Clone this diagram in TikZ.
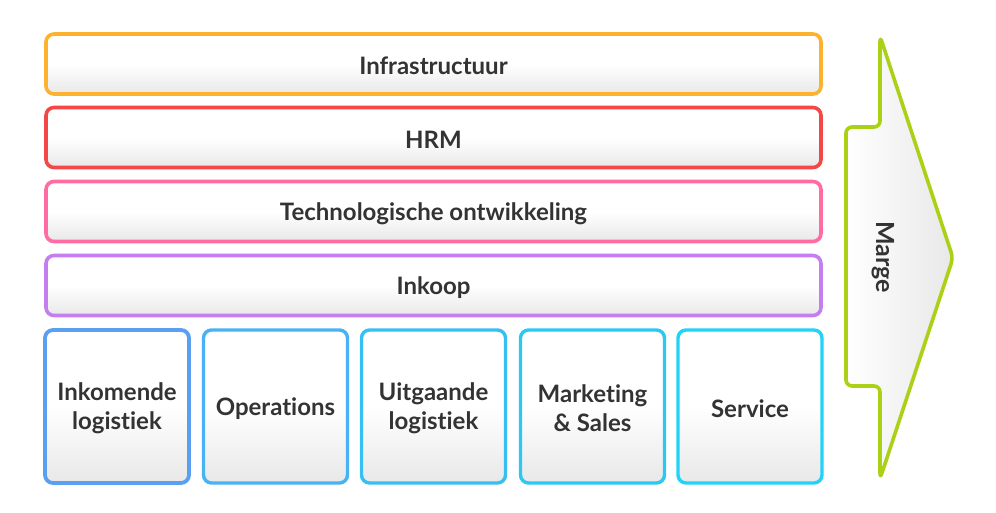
\documentclass[tikz,border=0pt]{standalone}
\usepackage{fontspec}
\setmainfont{Lato}[Ligatures={NoCommon,NoContextual}]
\definecolor{txt}{HTML}{333333}
\definecolor{cInfra}{HTML}{FDB22F}
\definecolor{cHrm}{HTML}{F44848}
\definecolor{cTech}{HTML}{FF6BA2}
\definecolor{cInk}{HTML}{C47EF0}
\definecolor{cB1}{HTML}{5BA0F0}
\definecolor{cB2}{HTML}{48B2F2}
\definecolor{cB3}{HTML}{38BFF2}
\definecolor{cB4}{HTML}{2CC8F4}
\definecolor{cB5}{HTML}{22D2F7}
\definecolor{cArrow}{HTML}{ABD116}
\definecolor{shadegray}{HTML}{E8E8E8}
\begin{document}
\begin{tikzpicture}[x=1pt,y=-1pt,
  lbl/.style={text=txt, font=\bfseries\fontsize{24}{29}\selectfont, align=center},
  boxbase/.style={rounded corners=8pt, top color=white, bottom color=shadegray, middle color=white},
  bar/.style={boxbase, draw=#1, line width=3.6pt, minimum width=775pt, minimum height=60pt},
  act/.style={boxbase, draw=#1, line width=3.4pt, minimum width=144pt, minimum height=153pt},
  arrowshape/.style={draw=cArrow, line width=3.6pt, rounded corners=6pt, left color=white, right color=shadegray, line join=round}
]
\useasboundingbox (0,0) rectangle (996,513);
\node[bar=cInfra] (infra) at (433.5,64) {};
\node[bar=cHrm] (hrm) at (433.5,137.5) {};
\node[bar=cTech] (tech) at (433.5,211.5) {};
\node[bar=cInk] (inkoop) at (433.5,285.5) {};
\node[act=cB1, line width=3.8pt] (ink) at (117,406.5) {};
\node[act=cB2] (ops) at (275.5,406.5) {};
\node[act=cB3] (uit) at (433.5,406.5) {};
\node[act=cB4] (mkt) at (592.5,406.5) {};
\node[act=cB5] (srv) at (750,406.5) {};
\node[lbl] (tinfra) at ([yshift=-2pt]infra.center) {Infrastructuur};
\node[lbl] (thrm) at ([yshift=-2pt]hrm.center) {HRM};
\node[lbl] (ttech) at ([yshift=-2pt]tech.center) {Technologische ontwikkeling};
\node[lbl] (tinkoop) at ([yshift=-2pt]inkoop.center) {Inkoop};
\node[lbl] (tink) at ([yshift=-2pt]ink.center) {Inkomende\\logistiek};
\node[lbl] (tops) at ([yshift=-2pt]ops.center) {Operations};
\node[lbl] (tuit) at ([yshift=-2pt]uit.center) {Uitgaande\\logistiek};
\node[lbl] (tmkt) at ([yshift=-2pt]mkt.center) {Marketing\\\&~Sales};
\node[lbl] (tsrv) at ([yshift=-2pt]srv.center) {Service};
\draw[arrowshape] (880,36) -- (880,127) -- (846,127) -- (846,386) -- (880,386) -- (880,479) -- (953,258) -- cycle;
\node[lbl, font=\bfseries\fontsize{25}{29}\selectfont, rotate=-90] (marge) at (883,257) {Marge};
\end{tikzpicture}
\end{document}
